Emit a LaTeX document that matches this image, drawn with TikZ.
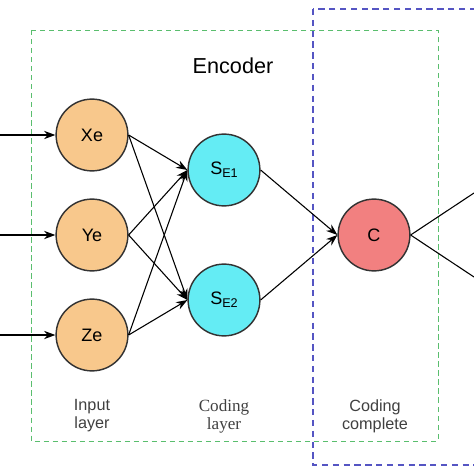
\documentclass[tikz,border=0pt]{standalone}
\usepackage{fontspec}
\setmainfont{Liberation Sans}
\newfontfamily\timesfont{Liberation Serif}
\usetikzlibrary{arrows.meta,positioning}
\definecolor{inorange}{RGB}{248,200,140}
\definecolor{codecyan}{RGB}{100,236,244}
\definecolor{compred}{RGB}{242,128,128}
\definecolor{encgreen}{RGB}{90,190,110}
\definecolor{decblue}{RGB}{85,85,195}

\begin{document}
\begin{tikzpicture}[x=0.0195cm, y=-0.0195cm,
        every node/.style={align=center},
        neuron/.style={circle, draw=black!80, thick, minimum size=1.4cm, inner sep=0pt, font=\fontsize{10}{12}\selectfont},
        inp/.style={neuron, fill=inorange},
        cod/.style={neuron, fill=codecyan},
        comp/.style={neuron, fill=compred},
        layerlbl/.style={font=\fontsize{9}{10}\selectfont, text=black!75},
        link/.style={-{Stealth[length=2.2mm, width=1.6mm]}, semithick}
    ]
        \clip (0,0) rectangle (474,474);
        \useasboundingbox (0,0) rectangle (474,474);

        % boxes
        \draw[encgreen, dash pattern=on 3pt off 2pt] (31,30) rectangle (438,441);
        \draw[decblue, line width=1pt, dash pattern=on 3.5pt off 2.5pt] (313,9) rectangle (490,465);

        \node[font=\fontsize{12}{14}\selectfont] (enc) at (233,66) {Encoder};

        % neurons
        \node[inp] (xe) at (92,135) {Xe};
        \node[inp] (ye) at (92,235) {Ye};
        \node[inp] (ze) at (92,335) {Ze};
        \node[cod] (se1) at (224,170) {S\raisebox{-0.35ex}{\fontsize{7}{8}\selectfont E1}};
        \node[cod] (se2) at (224,300) {S\raisebox{-0.35ex}{\fontsize{7}{8}\selectfont E2}};
        \node[comp] (c) at (374,235) {C};

        % free ends
        \coordinate (inx) at (0,135);
        \coordinate (iny) at (0,235);
        \coordinate (inz) at (0,335);
        \coordinate (out1) at (474,193);
        \coordinate (out2) at (474,277);

        % layer labels
        \node[layerlbl] (inlbl) at (92,416) {Input\\layer};
        \node[layerlbl, font=\timesfont\fontsize{9.5}{10}\selectfont] (codlbl) at (224,416) {Coding\\layer};
        \node[layerlbl] (complbl) at (375,416) {Coding\\complete};

        % connections
        \draw[link, line width=1pt] (inx) -- (xe);
        \draw[link, line width=1pt] (iny) -- (ye);
        \draw[link, line width=1pt] (inz) -- (ze);
        \draw[link] (xe.east) -- (se1.west);
        \draw[link] (xe.east) -- (se2.west);
        \draw[link] (ye.east) -- (se1.west);
        \draw[link] (ye.east) -- (se2.west);
        \draw[link] (ze.east) -- (se1.west);
        \draw[link] (ze.east) -- (se2.west);
        \draw[link] (se1.east) -- (c.west);
        \draw[link] (se2.east) -- (c.west);
        \draw[semithick] (c.east) -- (out1);
        \draw[semithick] (c.east) -- (out2);
    \end{tikzpicture}
\end{document}
